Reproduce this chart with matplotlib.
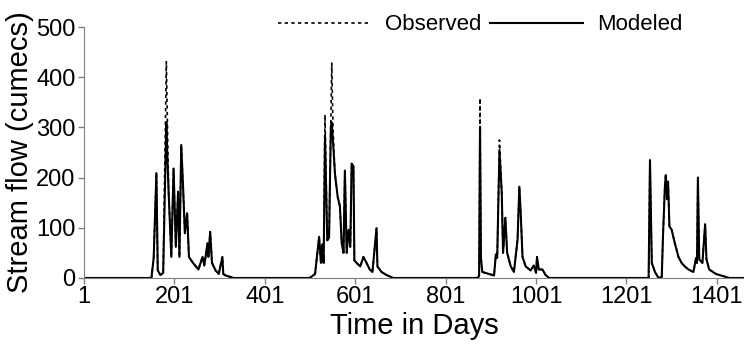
import matplotlib.pyplot as plt

days = [1, 150, 155, 161, 164, 170, 176, 183, 185, 188, 194, 199, 204, 209, 212, 216, 220, 224, 229, 233,
        242, 254, 263, 267, 274, 276, 280, 284, 292, 299, 307, 309, 314, 332,
        500, 512, 521, 525, 528, 531, 534, 539, 543, 547, 549, 552, 556, 562, 567, 571, 575, 578, 582, 586,
        590, 593, 597, 599, 604, 612, 619, 626, 633, 639, 648, 650, 659, 670, 685,
        872, 875, 877, 879, 882, 897, 908, 912, 915, 920, 925, 928, 933, 937, 945, 952, 960, 964, 967, 971,
        978, 989, 996, 1001, 1003, 1007, 1015, 1022, 1030,
        1250, 1253, 1257, 1264, 1272, 1279, 1282, 1286, 1288, 1291, 1293, 1296, 1301, 1308, 1316, 1323, 1330,
        1338, 1349, 1355, 1357, 1359, 1362, 1369, 1375, 1378, 1384, 1399, 1414, 1428, 1461]

modeled = [0, 0, 40, 209, 15, 6, 10, 311, 250, 172, 42, 218, 62, 172, 42, 265, 182, 89, 129, 42,
           30, 17, 42, 25, 69, 42, 92, 30, 15, 8, 42, 8, 5, 0,
           0, 8, 82, 30, 67, 30, 285, 75, 80, 301, 310, 268, 208, 162, 143, 69, 50, 214, 50, 96,
           62, 228, 222, 35, 30, 23, 42, 30, 17, 12, 99, 23, 12, 6, 0,
           0, 5, 301, 40, 12, 8, 5, 47, 40, 255, 171, 50, 120, 50, 23, 12, 76, 182, 129, 42,
           23, 15, 25, 10, 42, 17, 17, 6, 0,
           0, 235, 30, 12, 0, 2, 89, 182, 205, 157, 192, 103, 96, 69, 42, 30, 23,
           17, 12, 40, 30, 200, 37, 30, 107, 37, 17, 8, 4, 0, 0]

observed = [0, 0, 40, 209, 15, 6, 10, 431, 330, 172, 42, 218, 62, 172, 42, 265, 182, 89, 129, 42,
            30, 17, 42, 25, 69, 42, 92, 30, 15, 8, 42, 8, 5, 0,
            0, 8, 82, 30, 67, 30, 325, 75, 80, 320, 428, 290, 208, 162, 143, 69, 50, 214, 50, 96,
            62, 228, 222, 35, 30, 23, 42, 30, 17, 12, 99, 23, 12, 6, 0,
            0, 5, 358, 40, 12, 8, 5, 47, 40, 275, 171, 50, 120, 50, 23, 12, 76, 182, 129, 42,
            23, 15, 25, 10, 42, 17, 17, 6, 0,
            0, 235, 30, 12, 0, 2, 89, 182, 205, 157, 192, 103, 96, 69, 42, 30, 23,
            17, 12, 40, 30, 200, 37, 30, 107, 37, 17, 8, 4, 0, 0]

xticks = [1, 201, 401, 601, 801, 1001, 1201, 1401]
yticks = [0, 100, 200, 300, 400, 500]

plt.rcParams['font.family'] = ['Liberation Sans', 'DejaVu Sans']

fig = plt.figure(figsize=(7.44, 3.58), dpi=100)
ax = fig.add_axes([0.113, 0.2235, 0.887, 0.701])

ax.plot(days, observed, color='black', ls=(0, (2, 2)), lw=1.2, label='Observed')
ax.plot(days, modeled, color='black', lw=1.5, label='Modeled')

ax.set_xlim(1, 1461)
ax.set_ylim(0, 500)
ax.set_xticks(xticks)
ax.set_yticks(yticks)
ax.tick_params(labelsize=17, colors='black', length=4, width=1, color='gray', pad=2)

for s in ['top', 'right']:
    ax.spines[s].set_visible(False)
for s in ['left', 'bottom']:
    ax.spines[s].set_color('gray')

ax.set_xlabel('Time in Days', fontsize=21, labelpad=3)
ax.set_ylabel('Stream flow (cumecs)', fontsize=21, labelpad=2)

ax.legend(loc='upper center', bbox_to_anchor=(0.60, 1.13), ncol=2, frameon=False,
          fontsize=16, handlelength=4.2, columnspacing=0.4, handletextpad=0.6)

fig.savefig('out.png', dpi=100)
